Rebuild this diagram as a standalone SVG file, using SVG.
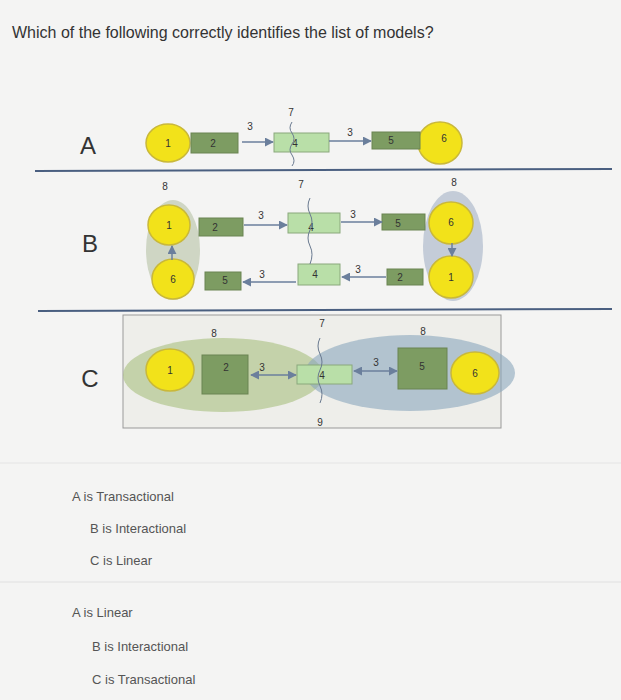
<svg xmlns="http://www.w3.org/2000/svg" width="621" height="700" viewBox="0 0 621 700">
<defs>
<marker id="ah" viewBox="0 0 10 10" refX="9" refY="5" markerWidth="6" markerHeight="6" orient="auto-start-reverse"><path d="M0,0 L10,5 L0,10 z" fill="#6b7f9c"/></marker>
<style>
text{font-family:"Liberation Sans",Arial,sans-serif;fill:#333}
.y{fill:#f2e21a;stroke:#c9b83a;stroke-width:1.5}
.d{fill:#7d9c62;stroke:#6a8452}
.l{fill:#b9dfa8;stroke:#8aa87d}
.n{font-size:10px;text-anchor:middle}
.big{font-size:24px;text-anchor:middle}
.a{stroke:#6b7f9c;stroke-width:1.5;fill:none;marker-end:url(#ah)}
.w{stroke:#6a7a90;stroke-width:1;fill:none}
.o{font-size:13px;fill:#555}
</style>
</defs>
<rect width="621" height="700" fill="#f4f4f3"/>
<text x="12" y="38" font-size="16" fill="#222">Which of the following correctly identifies the list of models?</text>
<text x="88" y="154" class="big">A</text>
<text x="90" y="252" class="big">B</text>
<text x="90" y="387" class="big">C</text>
<line x1="35" y1="171" x2="612" y2="169" stroke="#4a5f80" stroke-width="2"/>
<line x1="38" y1="311" x2="612" y2="309" stroke="#4a5f80" stroke-width="2"/>
<line x1="0" y1="463" x2="621" y2="463" stroke="#e4e4e4"/>
<line x1="0" y1="582" x2="621" y2="582" stroke="#e0e0e0"/>
<g id="A">
<ellipse cx="168" cy="143" rx="22" ry="19" class="y"/><text x="168" y="147" class="n">1</text>
<rect x="191" y="133" width="47" height="20" class="d"/><text x="213" y="147" class="n">2</text>
<text x="250" y="130" class="n">3</text>
<rect x="274" y="133" width="55" height="19" class="l"/><text x="295" y="147" class="n">4</text>
<text x="291" y="116" class="n">7</text>
<text x="350" y="136" class="n">3</text>
<ellipse cx="440" cy="143" rx="22" ry="21" class="y"/><text x="444" y="142" class="n">6</text>
<rect x="372" y="132" width="48" height="17" class="d"/><text x="391" y="144" class="n">5</text>
</g>
<g id="B">
<ellipse cx="173" cy="250" rx="27" ry="50" fill="#cfd6c4"/>
<ellipse cx="453" cy="246" rx="30" ry="55" fill="#c4ccd8"/>
<text x="165" y="190" class="n">8</text>
<text x="454" y="186" class="n">8</text>
<text x="301" y="188" class="n">7</text>
<ellipse cx="169" cy="225" rx="21" ry="20" class="y"/><text x="169" y="229" class="n">1</text>
<ellipse cx="173" cy="279" rx="21" ry="20" class="y"/><text x="173" y="283" class="n">6</text>
<rect x="199" y="218" width="44" height="18" class="d"/><text x="215" y="231" class="n">2</text>
<text x="261" y="219" class="n">3</text>
<rect x="288" y="213" width="52" height="20" class="l"/><text x="311" y="231" class="n">4</text>
<text x="353" y="218" class="n">3</text>
<rect x="382" y="214" width="43" height="16" class="d"/><text x="398" y="227" class="n">5</text>
<ellipse cx="451" cy="223" rx="22" ry="21" class="y"/><text x="451" y="226" class="n">6</text>
<ellipse cx="451" cy="277" rx="22" ry="21" class="y"/><text x="451" y="281" class="n">1</text>
<rect x="387" y="269" width="36" height="16" class="d"/><text x="400" y="281" class="n">2</text>
<text x="358" y="273" class="n">3</text>
<rect x="298" y="264" width="42" height="21" class="l"/><text x="315" y="278" class="n">4</text>
<text x="262" y="278" class="n">3</text>
<rect x="205" y="272" width="36" height="18" class="d"/><text x="225" y="284" class="n">5</text>
</g>
<g id="C">
<rect x="123" y="315" width="378" height="113" fill="#eeeeea" stroke="#999"/>
<ellipse cx="223" cy="375" rx="100" ry="37" fill="#a9c07f" opacity="0.6"/>
<ellipse cx="410" cy="373" rx="105" ry="38" fill="#8aa6bd" opacity="0.6"/>
<text x="214" y="337" class="n">8</text>
<text x="423" y="335" class="n">8</text>
<text x="322" y="327" class="n">7</text>
<text x="320" y="426" class="n">9</text>
<ellipse cx="170" cy="370" rx="24" ry="21" class="y"/><text x="170" y="374" class="n">1</text>
<rect x="202" y="355" width="46" height="39" class="d"/><text x="226" y="371" class="n">2</text>
<text x="262" y="371" class="n">3</text>
<rect x="297" y="365" width="55" height="19" class="l"/><text x="322" y="379" class="n">4</text>
<text x="376" y="366" class="n">3</text>
<rect x="398" y="348" width="49" height="41" class="d"/><text x="422" y="370" class="n">5</text>
<ellipse cx="475" cy="373" rx="24" ry="21" class="y"/><text x="475" y="377" class="n">6</text>
</g>
<g id="connectors">
<line x1="242" y1="142" x2="273" y2="142" class="a"/>
<line x1="329" y1="141" x2="371" y2="141" class="a"/>
<path class="w" d="M292,122 q-4,6 0,11 q4,6 0,11 q-4,6 0,11 q4,6 0,11"/>
<line x1="172" y1="260" x2="172" y2="246" class="a"/>
<line x1="244" y1="225" x2="287" y2="225" class="a"/>
<line x1="341" y1="222" x2="382" y2="222" class="a"/>
<line x1="452" y1="243" x2="452" y2="256" class="a"/>
<line x1="386" y1="277" x2="342" y2="277" class="a"/>
<line x1="296" y1="282" x2="243" y2="282" class="a"/>
<path class="w" d="M310,198 q-4,8 0,16 q4,8 0,16 q-4,8 0,16 q4,8 0,18"/>
<line x1="251" y1="375" x2="296" y2="375" class="a" marker-start="url(#ah)"/>
<path class="w" d="M320,338 q-4,8 0,16 q4,8 0,16 q-4,8 0,16 q4,8 0,17"/>
<line x1="354" y1="371" x2="397" y2="371" class="a" marker-start="url(#ah)"/>
</g>
<g id="options">
<text x="72" y="501" class="o">A is Transactional</text>
<text x="90" y="533" class="o">B is Interactional</text>
<text x="90" y="565" class="o">C is Linear</text>
<text x="72" y="617" class="o">A is Linear</text>
<text x="92" y="651" class="o">B is Interactional</text>
<text x="92" y="684" class="o">C is Transactional</text>
</g>
</svg>
